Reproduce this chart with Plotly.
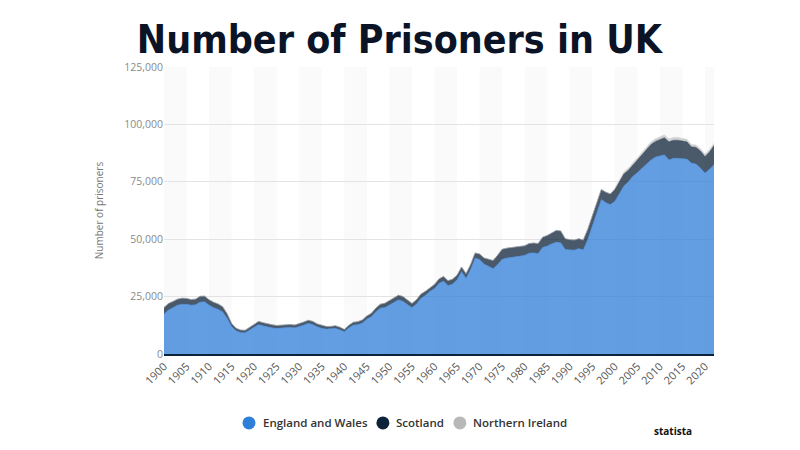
import plotly.graph_objects as go

years = list(range(1900, 2023))

england_wales = [
    17400, 19200, 20200, 21300, 21700, 21700, 21300, 21500, 22700, 22800,  # 1900s
    21300, 20200, 19500, 18400, 15600, 12000, 10100, 9400, 9300, 10600,    # 1910s
    11900, 12900, 12300, 11700, 11400, 11200, 11400, 11700, 11600, 11400,  # 1920s
    11900, 12600, 13400, 12900, 11900, 11200, 10900, 10900, 11200, 10600,  # 1930s
    9700, 11400, 12600, 12900, 13500, 15200, 16200, 18400, 20000, 20300,   # 1940s
    21400, 22600, 23600, 23000, 21600, 20200, 21800, 24300, 25600, 27300,  # 1950s
    28500, 30800, 31800, 29800, 30500, 32300, 35900, 33000, 36800, 41800,  # 1960s
    41200, 39200, 38200, 37200, 39000, 41300, 41800, 42000, 42300, 42700,  # 1970s
    43000, 44000, 44100, 43800, 46500, 47000, 48000, 48800, 48500, 45600,  # 1980s
    45400, 45300, 46000, 45400, 50000, 55700, 61000, 67300, 66000, 65100,  # 1990s
    66500, 70000, 73200, 75000, 77400, 79000, 80800, 82500, 84500, 85800,  # 2000s
    86300, 86800, 84600, 85300, 85300, 85200, 84900, 83200, 82800, 81000,  # 2010s
    78800, 80500, 82500,                                                   # 2020s
]

scotland = [
    2800, 2800, 2700, 2600, 2600, 2500, 2400, 2400, 2400, 2400,
    2300, 2300, 2300, 2200, 1900, 1300, 1100, 1000, 1000, 1100,
    1200, 1300, 1300, 1300, 1300, 1200, 1200, 1200, 1200, 1200,
    1200, 1300, 1300, 1300, 1200, 1200, 1100, 1100, 1100, 1100,
    1000, 1100, 1200, 1200, 1300, 1400, 1500, 1600, 1700, 1800,
    1900, 2000, 2000, 2000, 1900, 1800, 1800, 1800, 1700, 1700,
    1800, 1900, 2000, 2100, 2100, 2000, 2000, 2000, 2100, 2200,
    2300, 2600, 3000, 3500, 4000, 4300, 4300, 4300, 4200, 4100,
    4100, 4100, 4200, 4300, 4400, 4600, 4800, 5000, 5100, 4600,
    4400, 4300, 4200, 4200, 4300, 4200, 4200, 4300, 4500, 4600,
    5000, 5200, 5200, 5000, 4800, 5500, 6000, 6500, 6700, 6800,
    7000, 7400, 7800, 7800, 7800, 7500, 7500, 7000, 7200, 7400,
    7200, 7500, 8300,
]

# Northern Ireland only shows up from 2000 onwards
northern_ireland = [None] * 100 + [
    700, 800, 900, 900, 1000, 1000, 1000, 1100, 1100, 1100,
    1100, 1200, 1200, 1200, 1200, 1100, 1100, 1000, 1000, 1000,
    1000, 1000, 1000,
]

series_names = ["England and Wales", "Scotland", "Northern Ireland"]
series_values = [england_wales, scotland, northern_ireland]
fill_colors = ["rgba(47,126,216,0.75)", "rgba(13,35,58,0.75)", "rgba(205,205,205,0.9)"]
legend_colors = ["#2f7ed8", "#0d233a", "#b8b8b8"]

fig = go.Figure()

for name, values, fill in zip(series_names, series_values, fill_colors):
    fig.add_trace(go.Scatter(
        x=years, y=values, name=name,
        mode="lines", stackgroup="one",
        line=dict(width=0.6, color=fill),
        fillcolor=fill,
        showlegend=False,
    ))

# alternating background bands, every other 5-year block
for start in range(1900, 2023, 10):
    fig.add_shape(
        type="rect", xref="x", yref="paper",
        x0=start, x1=min(start + 5, 2022), y0=0, y1=1,
        fillcolor="#fafafa", line_width=0, layer="below",
    )

# hand-made legend (plotly's own spaces the items too widely)
legend_x = [0.1545, 0.398, 0.538]   # circle centres, paper coords
legend_y = -0.24
rx, ry = 6.5 / 550, 6.5 / 287
for name, color, lx in zip(series_names, legend_colors, legend_x):
    fig.add_shape(
        type="circle", xref="paper", yref="paper",
        x0=lx - rx, x1=lx + rx, y0=legend_y - ry, y1=legend_y + ry,
        fillcolor=color, line_width=0,
    )
    fig.add_annotation(
        text=name, xref="paper", yref="paper",
        x=lx + 0.021, y=legend_y, xanchor="left", yanchor="middle",
        showarrow=False,
        font=dict(size=11.5, color="#333333", family="Open Sans", weight=600),
    )

# the page adds an 8px body margin, so margins are shifted by that much
fig.update_layout(
    width=800, height=450,
    margin=dict(l=156, r=94, t=59, b=104),
    paper_bgcolor="white", plot_bgcolor="white",
    font=dict(family="Open Sans", color="#666666"),
    title=dict(
        text="<b>Number of Prisoners in UK</b>",
        x=0.161, xanchor="left", y=0.93, yanchor="middle",
        font=dict(family="DejaVu Sans Condensed, Roboto", size=39, color="#0b1326"),
    ),
    showlegend=False,
    hovermode=False,
)

fig.update_xaxes(
    range=[1900, 2022],
    tickvals=list(range(1900, 2021, 5)),
    tickangle=-45,
    tickfont=dict(size=11, color="#555555"),
    showgrid=False, zeroline=False,
    showline=True, linecolor="#0d233a", linewidth=1.5,
    ticks="",
)

fig.update_yaxes(
    range=[0, 125000],
    tickvals=[0, 25000, 50000, 75000, 100000, 125000],
    tickformat=",",
    tickfont=dict(size=10.5, color="#8a8a8a"),
    showgrid=True, gridcolor="#e3e3e3", gridwidth=1,
    zeroline=False,
    title=dict(text="Number of prisoners", font=dict(size=10, color="#777777"), standoff=18),
)

fig.add_annotation(
    text="<b>statista</b>", xref="paper", yref="paper",
    x=0.925, y=-0.3, showarrow=False, xanchor="center",
    font=dict(size=10, color="#111111", family="Open Sans"),
)

fig.write_html("out.html")
